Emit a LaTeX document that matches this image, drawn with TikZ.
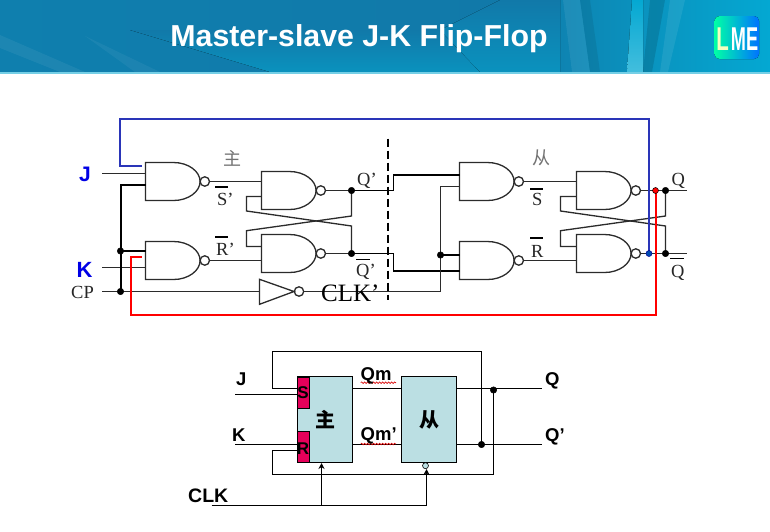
\documentclass[tikz,border=0pt]{standalone}
\usepackage{fontspec}
\setmainfont{Liberation Serif}
\newfontfamily\arl{Liberation Sans}
\newfontfamily\cjk{Noto Sans CJK SC}
\usetikzlibrary{decorations.pathmorphing,arrows.meta}
\definecolor{hdA}{HTML}{0F7FAE}
\definecolor{hdB}{HTML}{1179A9}
\definecolor{hdM}{HTML}{0A92BE}
\definecolor{hdC}{HTML}{04A8D2}
\definecolor{wire}{HTML}{2B2B2B}
\definecolor{bluew}{HTML}{2A35B8}
\definecolor{blk}{HTML}{BBDFE3}
\definecolor{pnk}{HTML}{E5005A}
\tikzset{
  x=1pt,y=-1pt,
  wr/.style={draw=wire,line width=1.3pt},
  thk/.style={draw=black,line width=2pt},
  w2/.style={draw=black,line width=1.5pt},
  bw/.style={draw=black,line width=1.15pt},
  bar/.style={draw=black,line width=1.5pt},
  dot/.style={circle,fill=black,draw=black,inner sep=0pt,minimum size=6.5pt},
  lab/.style={font=\fontsize{18.5}{18.5}\selectfont,text=black!85,inner sep=0pt,anchor=base west},
  hd/.style={font=\arl\bfseries\fontsize{18.5}{18.5}\selectfont,inner sep=0pt,anchor=base west},
  hb/.style={text=blue!90!black,font=\arl\bfseries\fontsize{21}{21}\selectfont,inner sep=0pt,anchor=base west},
  cn/.style={font=\cjk\fontsize{18}{18}\selectfont,text=black!55,inner sep=0pt},
  nand/.pic={
    \draw[draw=wire,line width=1.3pt] (0,-19) -- (28,-19) .. controls (43,-19) and (54.6,-10) .. (54.6,0)
       .. controls (54.6,10) and (43,19) .. (28,19) -- (0,19) -- cycle;
    \draw[draw=wire,line width=1.3pt] (59.3,0) circle[radius=4.7];
    \coordinate (-out) at (64,0);
    \coordinate (-l) at (0,0);
  },
}
\begin{document}
\begin{tikzpicture}
\useasboundingbox (0,0) rectangle (770,531);
\fill[white] (0,0) rectangle (770,531);
% header band
\fill[left color=hdA,right color=hdB] (0,0) rectangle (500,72);
\fill[left color=hdB,right color=hdM] (500,0) rectangle (640,72);
\fill[left color=hdM,right color=hdC] (640,0) rectangle (770,72);
\begin{scope}
\clip (0,0) rectangle (770,72);
\fill[top color=hdB,bottom color=hdM] (130,30) -- (500,30) -- (500,72) -- (270,72) -- cycle;
\fill[top color=hdB,bottom color=hdM] (440,30) -- (500,0) -- (560,0) -- (560,72) -- (480,72) -- cycle;
\fill[white,opacity=.06] (0,35) -- (85,72) -- (60,72) -- (0,48) -- cycle;
\fill[white,opacity=.05] (85,36) -- (160,72) -- (135,72) -- cycle;
\fill[white,opacity=.07] (563,0) -- (580,0) -- (590,72) -- (572,72) -- cycle;
\fill[black,opacity=.08] (580,0) -- (590,0) -- (600,72) -- (590,72) -- cycle;
\fill[top color=hdC,bottom color=hdC!75!white] (632,0) -- (643,0) -- (643,72) -- (627,72) -- cycle;
\fill[black,opacity=.12] (650,0) -- (665,0) -- (652,72) -- (643,72) -- cycle;
\fill[white,opacity=.08] (670,0) -- (685,0) -- (668,72) -- (660,72) -- cycle;
\end{scope}
\fill[hdC!55!white] (0,71.5) rectangle (770,73.5);
\node[text=white,font=\arl\bfseries\fontsize{30.3}{30.3}\selectfont,inner sep=0pt,anchor=base] (title) at (359,46.7) {Master-slave J-K Flip-Flop};
% logo
\fill[left color=cyan!65!green,right color=blue!55!cyan,rounded corners=5pt] (714.5,16) rectangle (759,59);
\node[text=green!15!yellow!25!white,font=\arl\bfseries\fontsize{33}{33}\selectfont,inner sep=0pt,xscale=.62,anchor=base] (lgL) at (722.5,50) {L};
\node[text=white,font=\arl\bfseries\fontsize{33}{33}\selectfont,inner sep=0pt,xscale=.55,anchor=base] (lgM) at (744.5,50) {ME};

% gates
\pic (g1) at (145.5,181.5) {nand};
\pic (g2) at (145.5,260.5) {nand};
\pic (g3) at (261.5,190.5) {nand};
\pic (g4) at (261.5,253.5) {nand};
\pic (g5) at (459.5,181.5) {nand};
\pic (g6) at (459.5,260.5) {nand};
\pic (g7) at (576.5,190.5) {nand};
\pic (g8) at (576.5,253.5) {nand};
% inverter
\draw[wr] (259.5,279.3) -- (294,291.5) -- (259.5,304.3) -- cycle;
\draw[wr] (299,291.5) circle[radius=4.7];
\coordinate (invin) at (259.5,291.5);
\coordinate (invout) at (303.7,291.5);

\coordinate (jin) at (102,173.5);
\coordinate (kin) at (102,267.5);
\coordinate (cpin) at (102,291.5);
\coordinate (cpd) at (120.5,291.5);
\coordinate (kd) at (120.5,251);
\coordinate (g1b) at (145.5,185);
\coordinate (g1j) at (145.5,173.5);
\coordinate (g2k) at (145.5,267.5);
\coordinate (g2a) at (145.5,251);
\coordinate (qa) at (351.5,190.5);
\coordinate (qb) at (351.5,253.5);
\coordinate (qa2) at (665.5,190.5);
\coordinate (qb2) at (665.5,253.5);

\draw[wr] (jin) -- (g1j);
\draw[wr] (kin) -- (g2k);
\draw[wr] (cpin) -- (invin);
\draw[thk] (cpd) -- (g1b -| cpd) -- (g1b);
\draw[thk] (kd) -- (g2a);
% master
\draw[wr] (g1-out) -- (g1-out -| g3-l);
\draw[wr] (g2-out) -- (g2-out -| g3-l);
\draw[wr] (261.5,196.5) -- (246.5,196.5) -- (246.5,211) -- (351.5,226) -- (qb);
\draw[wr] (261.5,246.5) -- (246.5,246.5) -- (246.5,230.7) -- (351.5,216) -- (qa);
\draw[wr] (g3-out) -- (qa);
\draw[wr] (g4-out) -- (qb);
% to slave
\draw[w2] (qa) -- (393.5,190.5) -- (393.5,175) -- (459.5,175);
\draw[w2] (qb) -- (393.5,253.5) -- (393.5,271) -- (460,271);
\draw[wr] (invout) -- (440.5,291.5) -- (440.5,186.5) -- (459.5,186.5);
\draw[w2] (440.5,255) -- (459.5,255);
% slave
\draw[wr] (g5-out) -- (g5-out -| g7-l);
\draw[wr] (g6-out) -- (g6-out -| g7-l);
\draw[wr] (576.5,196.5) -- (560.5,196.5) -- (560.5,211) -- (665.5,226) -- (qb2);
\draw[wr] (576.5,246.5) -- (560.5,246.5) -- (560.5,230.7) -- (665.5,216) -- (qa2);
\draw[wr] (g7-out) -- (686.7,190.5);
\draw[wr] (g8-out) -- (686.7,253.5);
% dashed divider
\draw[draw=black,line width=2pt,dash pattern=on 8pt off 4pt] (388,138.7) -- (388,300);
% feedback
\coordinate (bl) at (142,166);
\coordinate (rd) at (141.7,257);
\draw[bluew,line width=2pt] (bl) -- (120,166) -- (120,119) -- (649,119) -- (649,253.5);
\draw[red,line width=2pt] (rd) -- (131,257) -- (131,315) -- (655.5,315) -- (655.5,190.5);
% dots
\node[dot] (d1) at (cpd) {};
\node[dot] (d2) at (kd) {};
\node[dot] (d3) at (qa) {};
\node[dot] (d4) at (qb) {};
\node[dot] (d5) at (440.5,255) {};
\node[dot] (d6) at (qa2) {};
\node[dot] (d7) at (qb2) {};
\node[circle,fill=red,draw=black,line width=.5pt,inner sep=0pt,minimum size=6pt] (d8) at (655.5,190.5) {};
\node[circle,fill=teal!60!blue,draw=blue!60!black,line width=.5pt,inner sep=0pt,minimum size=6pt] (d9) at (649,253.5) {};
% labels
\node[cn] (zhu1) at (232,158) {主};
\node[cn] (cong1) at (541,158) {从};
\node[hb] (lj) at (79,181) {J};
\node[hb,font=\arl\bfseries\fontsize{22}{22}\selectfont] (lk) at (76.5,277) {K};
\node[lab] (lcp) at (71,298) {CP};
\node[lab] (ls1) at (217,205) {S'};
\draw[bar] (215,187) -- (228,187);
\node[lab] (lr1) at (216,255.7) {R'};
\draw[bar] (215,237) -- (228,237);
\node[lab] (lq1) at (357,185) {Q'};
\node[lab] (lq2) at (356,276.5) {Q'};
\draw[bar] (356,259.3) -- (370,259.3);
\node[lab] (ls2) at (532,205.7) {S};
\draw[bar] (530,189) -- (543,189);
\node[lab] (lr2) at (531,257) {R};
\draw[bar] (530,238) -- (543,238);
\node[lab] (lq3) at (671.5,185) {Q};
\node[lab] (lq4) at (671,277) {Q};
\draw[bar] (670,258.7) -- (684,258.7);
\node[inner sep=0pt,font=\fontsize{25}{25}\selectfont,anchor=base west] (clk) at (321,301) {CLK’};

% lower block diagram
\node[draw=black,line width=.9pt,fill=blk,minimum width=55pt,minimum height=85.6pt,inner sep=0pt] (ms) at (324.8,419.5) {};
\node[draw=black,line width=.9pt,fill=blk,minimum width=55pt,minimum height=85.6pt,inner sep=0pt] (sl) at (429.2,419.5) {};
\node[draw=black,line width=.4pt,fill=pnk,minimum width=12pt,minimum height=31pt,inner sep=0pt] (sb) at (303.3,392.2) {};
\node[draw=black,line width=.4pt,fill=pnk,minimum width=12pt,minimum height=31pt,inner sep=0pt] (rb) at (303.3,446.8) {};
\node[font=\cjk\bfseries\fontsize{20}{20}\selectfont,inner sep=0pt] (zhu2) at (325,420) {主};
\node[font=\cjk\bfseries\fontsize{20}{20}\selectfont,inner sep=0pt] (cong2) at (429,420) {从};
\node[hd,font=\arl\bfseries\fontsize{17}{17}\selectfont,anchor=base] (ls) at (303,398) {S};
\node[hd,font=\arl\bfseries\fontsize{17}{17}\selectfont,anchor=base] (lr) at (303,454) {R};
\coordinate (jl) at (235.3,394.5);
\coordinate (kl) at (235.3,444.5);
\coordinate (qr) at (542.3,388.5);
\coordinate (qpr) at (542.3,444.5);
\coordinate (clkl) at (211.7,505.5);
\coordinate (fbt) at (481.5,444.5);
\coordinate (fbb) at (493.5,390);
\draw[bw] (jl) -- (297.3,394.5);
\draw[bw] (kl) -- (297.3,444.5);
\draw[bw] (352.3,388.5) -- (401.7,388.5);
\draw[bw] (352.3,444.5) -- (401.7,444.5);
\draw[bw] (456.7,388.5) -- (qr);
\draw[bw] (456.7,444.5) -- (qpr);
\draw[bw] (297.3,388.5) -- (272.5,388.5) -- (272.5,351.5) -- (481.5,351.5) -- (fbt);
\draw[bw] (297.3,450.5) -- (272.5,450.5) -- (272.5,474.5) -- (493.5,474.5) -- (fbb);
\draw[bw,-{Stealth[length=6pt,width=6pt]}] (clkl) -- (426.5,505.5) -- (426.5,469);
\draw[bw,-{Stealth[length=6pt,width=6pt]}] (321.5,505.5) -- (321.5,463);
\node[circle,draw=black,line width=.6pt,fill=blk,inner sep=0pt,minimum size=6pt] (cb) at (425.5,465.7) {};
\node[dot] (d10) at (fbt) {};
\node[dot] (d11) at (fbb) {};
\draw[red!85!black,line width=.6pt,decorate,decoration={snake,amplitude=.8pt,segment length=3pt}] (360.7,382.7) -- (396,382.7);
\draw[red!85!black,line width=.6pt,decorate,decoration={snake,amplitude=.8pt,segment length=3pt}] (360.7,444) -- (396,444);
\node[hd] (lj2) at (236,385.7) {J};
\node[hd] (lk2) at (232,441) {K};
\node[hd] (lqm) at (360.5,380) {Qm};
\node[hd] (lqm2) at (360.5,440) {Qm’};
\node[hd] (lq5) at (545,385.7) {Q};
\node[hd] (lq6) at (545,441) {Q’};
\node[hd,font=\arl\bfseries\fontsize{19.5}{19.5}\selectfont] (lclk) at (188,502.7) {CLK};
\end{tikzpicture}
\end{document}
